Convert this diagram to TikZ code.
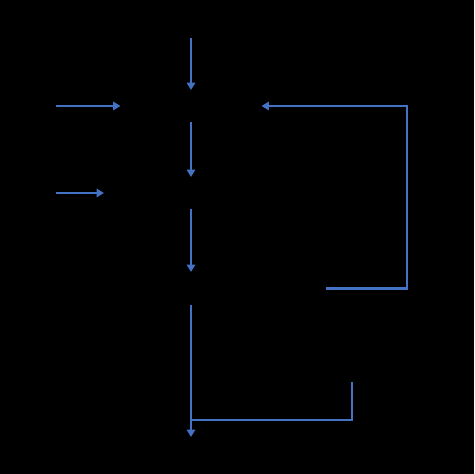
\documentclass[tikz,border=0pt]{standalone}
\usetikzlibrary{arrows.meta}
\definecolor{flowblue}{RGB}{68,114,196}
\tikzset{
  flow/.style={draw=flowblue, line width=2.1pt, -{Triangle[width=0.25cm,length=0.22cm]}},
  link/.style={draw=flowblue, line width=2.1pt},
  blank/.style={inner sep=0pt, outer sep=0pt},
}
\begin{document}
\begin{tikzpicture}[x=0.03cm, y=-0.03cm]
    \fill[black] (0,0) rectangle (474,474);
    \useasboundingbox (0,0) rectangle (474,474);

    \coordinate (t) at (191,38);
    \coordinate (i1) at (56,106);
    \coordinate (i2) at (56,193);

    \node[blank, minimum width=4.23cm, minimum height=0.96cm] (a) at (191,106) {};
    \node[blank, minimum width=5.22cm, minimum height=0.96cm] (b) at (191,193) {};
    \node[blank, minimum width=8.1cm, minimum height=0.99cm] (c) at (191,288.5) {};
    \node[blank, minimum width=1cm, minimum height=1cm] (d) at (352,365) {};

    \coordinate (r) at (407,200);
    \coordinate (j) at (191,420);
    \coordinate (e) at (191,437);

    \draw[flow] (t) -- (a);
    \draw[flow] (i1) -- (a);
    \draw[flow] (i2) -- (b);
    \draw[flow] (a) -- (b);
    \draw[flow] (b) -- (c);
    \draw[flow] (c.east) -| (r) |- (a.east);
    \draw[flow] (c) -- (e);
    \draw[link] (d.south) |- (j);
  \end{tikzpicture}
\end{document}
